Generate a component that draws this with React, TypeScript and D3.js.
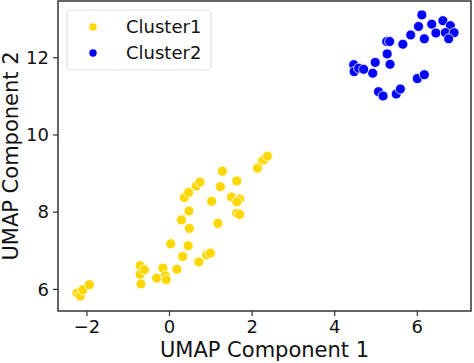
import * as d3 from 'd3';
import React from 'react';

// UMAP embedding
const cluster1X = [-2.24, -2.16, -2.10, -1.94, -0.71, -0.71, -0.61, -0.69, -0.31, -0.16, -0.10, -0.08, 0.18, 0.03, 0.32, 0.45, 0.29, 0.48, 0.47, 0.36, 0.46, 0.65, 0.74, 0.71, 0.90, 0.99, 1.02, 1.17, 1.23, 1.28, 1.50, 1.70, 1.63, 1.63, 1.63, 1.70, 2.13, 2.24, 2.29, 2.37];
const cluster1Y = [5.90, 5.83, 5.99, 6.12, 6.61, 6.39, 6.51, 6.14, 6.29, 6.55, 6.35, 6.25, 6.52, 7.18, 6.85, 7.13, 7.80, 7.58, 8.03, 8.38, 8.51, 8.68, 8.78, 6.71, 6.89, 6.94, 8.28, 7.71, 8.66, 9.06, 8.39, 8.34, 8.81, 8.27, 7.97, 7.94, 9.14, 9.33, 9.36, 9.45];
const cluster2X = [6.11, 6.03, 6.35, 6.62, 6.80, 6.45, 6.68, 6.89, 6.76, 6.17, 5.84, 5.65, 5.26, 5.33, 5.27, 5.34, 4.98, 4.92, 4.46, 4.47, 4.58, 4.70, 6.00, 6.17, 5.06, 5.17, 5.49, 5.59];
const cluster2Y = [13.11, 12.81, 12.87, 12.96, 12.83, 12.64, 12.65, 12.65, 12.49, 12.49, 12.59, 12.35, 12.42, 12.42, 12.10, 11.83, 11.88, 11.60, 11.82, 11.64, 11.73, 11.70, 11.46, 11.56, 11.12, 11.01, 11.06, 11.19];
const xTicks = [-2, 0, 2, 4, 6];
const yTicks = [6, 8, 10, 12];
const seriesNames = ['Cluster1', 'Cluster2'];
const seriesColors = ['#ffd700', '#0000ff'];

const W = 474;
const H = 363;
const margin = { top: 1, right: 3, bottom: 52, left: 58 };
const font = 'DejaVu Sans, sans-serif';

export default function App() {
    const x = d3.scaleLinear().domain([-2.7, 7.3]).range([margin.left, W - margin.right]);
    const y = d3.scaleLinear().domain([5.44, 13.47]).range([H - margin.bottom, margin.top]);

    const series = [
        { name: seriesNames[0], color: seriesColors[0], pts: d3.zip(cluster1X, cluster1Y) },
        { name: seriesNames[1], color: seriesColors[1], pts: d3.zip(cluster2X, cluster2Y) },
    ];

    const x0 = margin.left, x1 = W - margin.right;
    const y0 = H - margin.bottom, y1 = margin.top;

    return (
        <svg width={W} height={H} style={{ position: 'absolute', left: 0, top: 0, background: '#fff' }}>
            {series.map(s => (
                <g key={s.name}>
                    {s.pts.map((p, i) => (
                        <circle key={i} cx={x(p[0])} cy={y(p[1])} r={5}
                            fill={s.color} stroke="#fff" strokeWidth={0.8} />
                    ))}
                </g>
            ))}

            {/* frame */}
            <rect x={x0} y={y1} width={x1 - x0} height={y0 - y1} fill="none" stroke="#333" strokeWidth={1.5} />

            {/* x axis */}
            {xTicks.map(t => (
                <g key={t} transform={`translate(${x(t)},${y0})`}>
                    <line y2={5} stroke="#333" strokeWidth={1.2} />
                    <text y={22} textAnchor="middle" fontFamily={font} fontSize={18} fill="#111">
                        {t < 0 ? `\u2212${-t}` : t}
                    </text>
                </g>
            ))}
            <text x={(x0 + x1) / 2} y={H - 6} textAnchor="middle" fontFamily={font} fontSize={21} fill="#111">
                UMAP Component 1
            </text>

            {/* y axis */}
            {yTicks.map(t => (
                <g key={t} transform={`translate(${x0},${y(t)})`}>
                    <line x2={-5} stroke="#333" strokeWidth={1.2} />
                    <text x={-9} dy="0.35em" textAnchor="end" fontFamily={font} fontSize={18} fill="#111">{t}</text>
                </g>
            ))}
            <text transform={`translate(18,${(y0 + y1) / 2}) rotate(-90)`} textAnchor="middle"
                fontFamily={font} fontSize={21} fill="#111">
                UMAP Component 2
            </text>

            {/* legend */}
            <g transform="translate(67,10)">
                <rect width={144} height={60} rx={3} fill="#fff" fillOpacity={0.8} stroke="#ddd" />
                {series.map((s, i) => (
                    <g key={s.name} transform={`translate(0,${17 + i * 26})`}>
                        <circle cx={26} cy={0} r={3.7} fill={s.color} />
                        <text x={59} dy="0.35em" fontFamily={font} fontSize={18} fill="#111">{s.name}</text>
                    </g>
                ))}
            </g>
        </svg>
    );
}
